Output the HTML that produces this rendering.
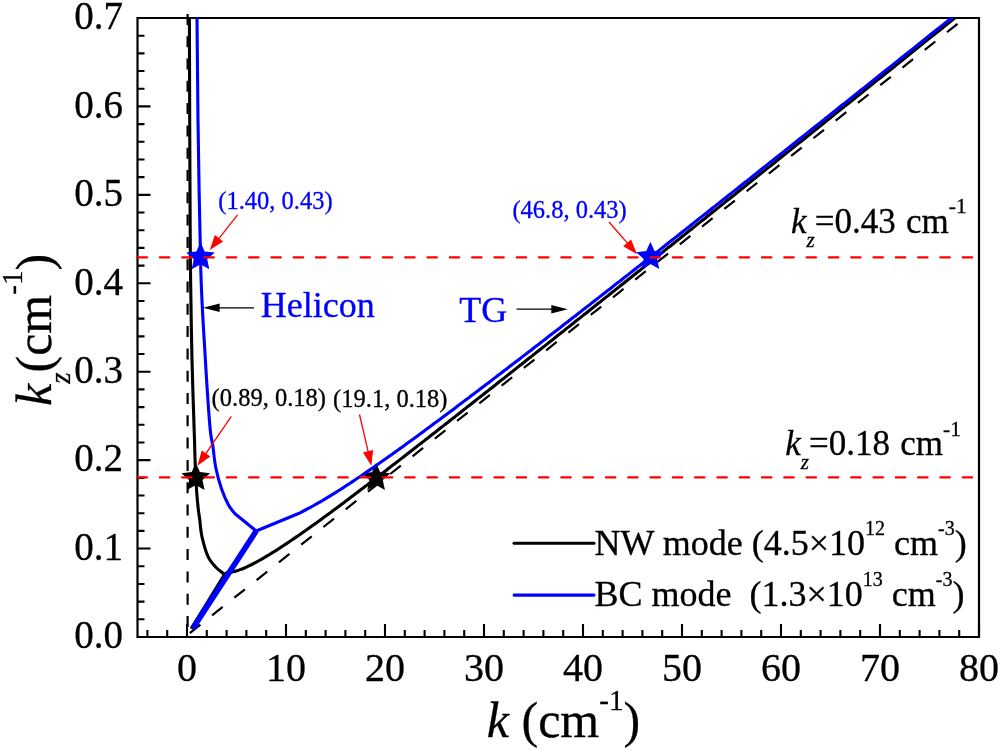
<!DOCTYPE html><html><head><meta charset="utf-8"><style>html,body{margin:0;padding:0;background:#fff;}svg{display:block;}text{font-family:"Liberation Serif","Times New Roman",serif;stroke:#000;stroke-width:0.3px;}text.b{fill:#0000ff;stroke:#0000ff;}</style></head><body>
<svg width="1000" height="750" viewBox="0 0 1000 750">
<rect width="1000" height="750" fill="#fff"/>
<defs><clipPath id="pc"><rect x="0" y="17.2" width="1000" height="640"/></clipPath></defs>
<path d="M137.5,18.0 H979.0 V637.0 H137.5 Z" fill="none" stroke="#000" stroke-width="2.2"/>
<path d="M147.40,637.0 V630.0 M167.20,637.0 V630.0 M187.00,637.0 V624.0 M206.80,637.0 V630.0 M226.60,637.0 V630.0 M246.40,637.0 V630.0 M266.20,637.0 V630.0 M286.00,637.0 V624.0 M305.80,637.0 V630.0 M325.60,637.0 V630.0 M345.40,637.0 V630.0 M365.20,637.0 V630.0 M385.00,637.0 V624.0 M404.80,637.0 V630.0 M424.60,637.0 V630.0 M444.40,637.0 V630.0 M464.20,637.0 V630.0 M484.00,637.0 V624.0 M503.80,637.0 V630.0 M523.60,637.0 V630.0 M543.40,637.0 V630.0 M563.20,637.0 V630.0 M583.00,637.0 V624.0 M602.80,637.0 V630.0 M622.60,637.0 V630.0 M642.40,637.0 V630.0 M662.20,637.0 V630.0 M682.00,637.0 V624.0 M701.80,637.0 V630.0 M721.60,637.0 V630.0 M741.40,637.0 V630.0 M761.20,637.0 V630.0 M781.00,637.0 V624.0 M800.80,637.0 V630.0 M820.60,637.0 V630.0 M840.40,637.0 V630.0 M860.20,637.0 V630.0 M880.00,637.0 V624.0 M899.80,637.0 V630.0 M919.60,637.0 V630.0 M939.40,637.0 V630.0 M959.20,637.0 V630.0 M979.00,637.0 V624.0 M137.5,637.00 H150.5 M137.5,619.31 H144.5 M137.5,601.63 H144.5 M137.5,583.94 H144.5 M137.5,566.26 H144.5 M137.5,548.57 H150.5 M137.5,530.88 H144.5 M137.5,513.20 H144.5 M137.5,495.51 H144.5 M137.5,477.83 H144.5 M137.5,460.14 H150.5 M137.5,442.45 H144.5 M137.5,424.77 H144.5 M137.5,407.08 H144.5 M137.5,389.40 H144.5 M137.5,371.71 H150.5 M137.5,354.02 H144.5 M137.5,336.34 H144.5 M137.5,318.65 H144.5 M137.5,300.97 H144.5 M137.5,283.28 H150.5 M137.5,265.59 H144.5 M137.5,247.91 H144.5 M137.5,230.22 H144.5 M137.5,212.54 H144.5 M137.5,194.85 H150.5 M137.5,177.16 H144.5 M137.5,159.48 H144.5 M137.5,141.79 H144.5 M137.5,124.11 H144.5 M137.5,106.42 H150.5 M137.5,88.73 H144.5 M137.5,71.05 H144.5 M137.5,53.36 H144.5 M137.5,35.68 H144.5" stroke="#000" stroke-width="2.1" fill="none"/>
<line x1="187.6" y1="637.0" x2="187.6" y2="14" stroke="#000" stroke-width="2.2" stroke-dasharray="11 11.3" stroke-dashoffset="12.3"/>
<line x1="187.6" y1="634.8" x2="957.5" y2="23.9" stroke="#000" stroke-width="2.2" stroke-dasharray="13.5 14.93" stroke-dashoffset="25.6"/>
<path d="M191.2,628.8 L224.6,574.4" fill="none" stroke="#000" stroke-width="3.1"/>
<path clip-path="url(#pc)" d="M189.30,14.00 C189.32,14.67 189.33,0.33 189.40,18.00 C189.47,35.67 189.57,84.67 189.70,120.00 C189.83,155.33 190.05,203.33 190.20,230.00 C190.35,256.67 190.30,258.33 190.60,280.00 C190.90,301.67 191.35,333.33 192.00,360.00 C192.65,386.67 193.98,423.12 194.50,440.00 C195.02,456.88 194.88,455.25 195.10,461.30 C195.32,467.35 195.52,470.97 195.80,476.30 C196.08,481.63 196.38,487.80 196.80,493.30 C197.22,498.80 197.80,504.85 198.30,509.30 C198.80,513.75 199.42,516.88 199.80,520.00 C200.18,523.12 200.27,525.33 200.60,528.00 C200.93,530.67 201.27,533.33 201.80,536.00 C202.33,538.67 203.07,541.33 203.80,544.00 C204.53,546.67 205.33,549.60 206.20,552.00 C207.07,554.40 207.87,556.40 209.00,558.40 C210.13,560.40 211.73,562.40 213.00,564.00 C214.27,565.60 215.20,566.67 216.60,568.00 C218.00,569.33 220.07,570.93 221.40,572.00 C222.73,573.07 224.07,574.00 224.60,574.40 L227.1,572.5 229.5,572.3 232.0,571.9 234.5,571.4 237.0,570.7 239.4,569.9 241.9,569.0 244.4,568.0 246.9,566.9 249.3,565.7 251.8,564.5 254.3,563.2 256.8,561.9 259.2,560.5 261.7,559.1 264.2,557.7 266.7,556.2 269.1,554.7 271.6,553.2 274.1,551.7 276.6,550.1 279.1,548.5 281.5,546.9 284.0,545.3 286.5,543.6 288.9,542.0 291.4,540.3 293.9,538.6 296.4,536.9 298.9,535.2 301.3,533.5 303.8,531.7 306.3,530.0 308.8,528.2 311.2,526.5 313.7,524.7 316.2,522.9 318.6,521.2 321.1,519.4 323.6,517.6 326.1,515.8 328.5,514.0 331.0,512.2 333.5,510.3 336.0,508.5 338.4,506.7 340.9,504.8 343.4,502.9 345.9,501.1 348.4,499.2 350.8,497.3 353.3,495.5 355.8,493.6 358.2,491.7 360.7,489.8 363.2,487.9 365.7,486.1 368.1,484.2 370.6,482.3 373.1,480.4 375.6,478.5 378.1,476.6 380.5,474.7 383.0,472.8 385.5,470.9 387.9,469.0 390.4,467.0 392.9,465.1 395.4,463.2 397.9,461.3 400.3,459.4 402.8,457.5 405.3,455.5 407.8,453.6 410.2,451.7 412.7,449.8 415.2,447.8 417.6,445.9 420.1,444.0 422.6,442.1 425.1,440.1 427.6,438.2 430.0,436.3 432.5,434.3 435.0,432.4 437.4,430.5 439.9,428.5 442.4,426.6 444.9,424.6 447.4,422.7 449.8,420.8 452.3,418.8 454.8,416.9 457.2,414.9 459.7,413.0 462.2,411.0 464.7,409.1 467.1,407.1 469.6,405.2 472.1,403.3 474.6,401.3 477.0,399.4 479.5,397.4 482.0,395.5 484.5,393.5 487.0,391.6 489.4,389.6 491.9,387.7 494.4,385.7 496.9,383.7 499.3,381.8 501.8,379.8 504.3,377.9 506.8,375.9 509.2,374.0 511.7,372.0 514.2,370.1 516.6,368.1 519.1,366.1 521.6,364.2 524.1,362.2 526.5,360.3 529.0,358.3 531.5,356.4 534.0,354.4 536.5,352.4 538.9,350.5 541.4,348.5 543.9,346.6 546.4,344.6 548.8,342.6 551.3,340.7 553.8,338.7 556.2,336.7 558.7,334.8 561.2,332.8 563.7,330.9 566.1,328.9 568.6,326.9 571.1,325.0 573.6,323.0 576.0,321.0 578.5,319.1 581.0,317.1 583.5,315.1 586.0,313.2 588.4,311.2 590.9,309.2 593.4,307.3 595.9,305.3 598.3,303.3 600.8,301.4 603.3,299.4 605.8,297.4 608.2,295.5 610.7,293.5 613.2,291.5 615.6,289.6 618.1,287.6 620.6,285.6 623.1,283.7 625.5,281.7 628.0,279.7 630.5,277.7 633.0,275.8 635.5,273.8 637.9,271.8 640.4,269.9 642.9,267.9 645.4,265.9 647.8,264.0 650.3,262.0 652.8,260.0 655.2,258.0 657.7,256.1 660.2,254.1 662.7,252.1 665.1,250.1 667.6,248.1 670.1,246.2 672.6,244.2 675.0,242.2 677.5,240.2 680.0,238.3 682.5,236.3 685.0,234.3 687.4,232.3 689.9,230.3 692.4,228.4 694.9,226.4 697.3,224.4 699.8,222.4 702.3,220.4 704.8,218.5 707.2,216.5 709.7,214.5 712.2,212.5 714.7,210.5 717.1,208.6 719.6,206.6 722.1,204.6 724.6,202.6 727.0,200.6 729.5,198.7 732.0,196.7 734.5,194.7 736.9,192.7 739.4,190.7 741.9,188.7 744.4,186.8 746.8,184.8 749.3,182.8 751.8,180.8 754.2,178.8 756.7,176.9 759.2,174.9 761.7,172.9 764.2,170.9 766.6,168.9 769.1,166.9 771.6,165.0 774.1,163.0 776.5,161.0 779.0,159.0 781.5,157.0 784.0,155.0 786.4,153.1 788.9,151.1 791.4,149.1 793.9,147.1 796.3,145.1 798.8,143.1 801.3,141.2 803.8,139.2 806.2,137.2 808.7,135.2 811.2,133.2 813.7,131.2 816.1,129.3 818.6,127.3 821.1,125.3 823.5,123.3 826.0,121.3 828.5,119.3 831.0,117.4 833.4,115.4 835.9,113.4 838.4,111.4 840.9,109.4 843.4,107.4 845.8,105.4 848.3,103.5 850.8,101.5 853.2,99.5 855.7,97.5 858.2,95.5 860.7,93.5 863.1,91.6 865.6,89.6 868.1,87.6 870.6,85.6 873.0,83.6 875.5,81.6 878.0,79.6 880.5,77.7 882.9,75.7 885.4,73.7 887.9,71.7 890.4,69.7 892.9,67.7 895.3,65.7 897.8,63.8 900.3,61.8 902.8,59.8 905.2,57.8 907.7,55.8 910.2,53.8 912.6,51.8 915.1,49.9 917.6,47.9 920.1,45.9 922.5,43.9 925.0,41.9 927.5,39.9 930.0,37.9 932.4,36.0 934.9,34.0 937.4,32.0 939.9,30.0 942.4,28.0 944.8,26.0 947.3,24.0 949.8,22.1 952.2,20.1 954.7,18.1 957.2,16.1 959.7,14.1 959.8,14.0" fill="none" stroke="#000" stroke-width="3.1" stroke-linejoin="round"/>
<polygon points="195.8,462.8 199.9,472.1 210.1,473.2 202.5,480.0 204.6,489.9 195.8,484.9 187.0,489.9 189.1,480.0 181.5,473.2 191.7,472.1" fill="#000"/>
<polygon points="376.1,462.9 380.2,472.2 390.4,473.3 382.8,480.1 384.9,490.0 376.1,484.9 367.3,490.0 369.4,480.1 361.8,473.3 372.0,472.2" fill="#000"/>
<path clip-path="url(#pc)" d="M196.90,14.00 C196.92,14.67 196.82,0.33 197.00,18.00 C197.18,35.67 197.37,78.00 198.00,120.00 C198.63,162.00 199.67,231.67 200.80,270.00 C201.93,308.33 203.30,324.17 204.80,350.00 C206.30,375.83 208.45,408.95 209.80,425.00 C211.15,441.05 211.90,439.18 212.90,446.30 C213.90,453.42 214.35,460.58 215.80,467.70 C217.25,474.82 219.48,482.78 221.60,489.00 C223.72,495.22 226.22,500.83 228.50,505.00 C230.78,509.17 234.17,512.50 235.30,514.00 L256.2,531 L298.0,513.8 300.5,512.6 302.9,511.3 305.4,510.0 307.9,508.7 310.4,507.4 312.9,506.0 315.3,504.7 317.8,503.2 320.3,501.8 322.8,500.4 325.2,498.9 327.7,497.4 330.2,495.9 332.6,494.4 335.1,492.9 337.6,491.3 340.1,489.7 342.6,488.1 345.0,486.5 347.5,484.9 350.0,483.3 352.5,481.6 354.9,480.0 357.4,478.3 359.9,476.7 362.4,475.0 364.8,473.3 367.3,471.6 369.8,469.9 372.2,468.2 374.7,466.5 377.2,464.7 379.7,463.0 382.1,461.3 384.6,459.5 387.1,457.8 389.6,456.0 392.1,454.3 394.5,452.5 397.0,450.7 399.5,448.9 402.0,447.2 404.4,445.4 406.9,443.6 409.4,441.8 411.9,440.0 414.3,438.2 416.8,436.4 419.3,434.6 421.8,432.7 424.2,430.9 426.7,429.1 429.2,427.3 431.6,425.5 434.1,423.6 436.6,421.8 439.1,419.9 441.6,418.1 444.0,416.3 446.5,414.4 449.0,412.6 451.5,410.7 453.9,408.9 456.4,407.0 458.9,405.1 461.4,403.3 463.8,401.4 466.3,399.5 468.8,397.7 471.2,395.8 473.7,393.9 476.2,392.1 478.7,390.2 481.1,388.3 483.6,386.4 486.1,384.5 488.6,382.7 491.1,380.8 493.5,378.9 496.0,377.0 498.5,375.1 501.0,373.2 503.4,371.3 505.9,369.4 508.4,367.5 510.9,365.6 513.3,363.7 515.8,361.8 518.3,359.9 520.8,358.0 523.2,356.1 525.7,354.2 528.2,352.3 530.7,350.4 533.1,348.5 535.6,346.6 538.1,344.7 540.6,342.8 543.0,340.9 545.5,339.0 548.0,337.0 550.5,335.1 552.9,333.2 555.4,331.3 557.9,329.4 560.4,327.5 562.8,325.5 565.3,323.6 567.8,321.7 570.2,319.8 572.7,317.8 575.2,315.9 577.7,314.0 580.2,312.1 582.6,310.1 585.1,308.2 587.6,306.3 590.1,304.4 592.5,302.4 595.0,300.5 597.5,298.6 600.0,296.6 602.4,294.7 604.9,292.8 607.4,290.8 609.9,288.9 612.3,287.0 614.8,285.0 617.3,283.1 619.8,281.2 622.2,279.2 624.7,277.3 627.2,275.4 629.7,273.4 632.1,271.5 634.6,269.5 637.1,267.6 639.6,265.7 642.0,263.7 644.5,261.8 647.0,259.8 649.5,257.9 651.9,255.9 654.4,254.0 656.9,252.1 659.4,250.1 661.8,248.2 664.3,246.2 666.8,244.2 669.2,242.3 671.7,240.3 674.2,238.4 676.7,236.4 679.2,234.5 681.6,232.5 684.1,230.6 686.6,228.6 689.1,226.7 691.5,224.7 694.0,222.7 696.5,220.8 699.0,218.8 701.4,216.9 703.9,214.9 706.4,213.0 708.9,211.0 711.3,209.0 713.8,207.1 716.3,205.1 718.8,203.2 721.2,201.2 723.7,199.2 726.2,197.3 728.7,195.3 731.1,193.4 733.6,191.4 736.1,189.4 738.6,187.5 741.0,185.5 743.5,183.5 746.0,181.6 748.5,179.6 750.9,177.7 753.4,175.7 755.9,173.7 758.4,171.8 760.8,169.8 763.3,167.8 765.8,165.9 768.3,163.9 770.7,161.9 773.2,160.0 775.7,158.0 778.2,156.0 780.6,154.1 783.1,152.1 785.6,150.1 788.1,148.2 790.5,146.2 793.0,144.2 795.5,142.3 798.0,140.3 800.4,138.3 802.9,136.4 805.4,134.4 807.9,132.4 810.3,130.5 812.8,128.5 815.3,126.5 817.8,124.6 820.2,122.6 822.7,120.6 825.2,118.6 827.7,116.7 830.1,114.7 832.6,112.7 835.1,110.8 837.6,108.8 840.0,106.8 842.5,104.8 845.0,102.9 847.5,100.9 849.9,98.9 852.4,97.0 854.9,95.0 857.4,93.0 859.8,91.0 862.3,89.1 864.8,87.1 867.3,85.1 869.7,83.2 872.2,81.2 874.7,79.2 877.2,77.2 879.6,75.3 882.1,73.3 884.6,71.3 887.1,69.3 889.5,67.4 892.0,65.4 894.5,63.4 897.0,61.4 899.4,59.5 901.9,57.5 904.4,55.5 906.9,53.5 909.3,51.6 911.8,49.6 914.3,47.6 916.8,45.6 919.2,43.7 921.7,41.7 924.2,39.7 926.7,37.7 929.1,35.8 931.6,33.8 934.1,31.8 936.6,29.8 939.0,27.9 941.5,25.9 944.0,23.9 946.5,21.9 948.9,20.0 951.4,18.0 953.9,16.0 956.4,14.0 956.4,14.0" fill="none" stroke="#0000ff" stroke-width="3.1" stroke-linejoin="round"/>
<path d="M192.8,628.4 L256.2,531" fill="none" stroke="#0000ff" stroke-width="5.6" stroke-linecap="butt"/>
<polygon points="200.5,242.1 204.6,251.4 214.8,252.5 207.2,259.3 209.3,269.2 200.5,264.2 191.7,269.2 193.8,259.3 186.2,252.5 196.4,251.4" fill="#0000ff"/>
<polygon points="650.4,241.8 654.5,251.1 664.7,252.2 657.1,259.0 659.2,268.9 650.4,263.9 641.6,268.9 643.7,259.0 636.1,252.2 646.3,251.1" fill="#0000ff"/>
<line x1="137.6" y1="257.4" x2="975" y2="257.4" stroke="#ff0000" stroke-width="2.2" stroke-dasharray="9.4 12.9" stroke-linecap="round"/>
<line x1="137.6" y1="477.4" x2="975" y2="477.4" stroke="#ff0000" stroke-width="2.2" stroke-dasharray="9.4 12.9" stroke-linecap="round"/>
<line x1="237.6" y1="214.8" x2="217.8" y2="239.8" stroke="#ff0000" stroke-width="1.3"/><polygon points="209.7,250.0 214.9,235.0 223.1,241.5" fill="#ff0000"/>
<line x1="609.0" y1="222.0" x2="628.5" y2="244.4" stroke="#ff0000" stroke-width="1.3"/><polygon points="637.0,254.2 623.2,246.3 631.1,239.5" fill="#ff0000"/>
<line x1="231.3" y1="416.4" x2="204.8" y2="455.1" stroke="#ff0000" stroke-width="1.3"/><polygon points="197.5,465.8 201.7,450.5 210.3,456.4" fill="#ff0000"/>
<line x1="359.5" y1="414.5" x2="368.5" y2="453.1" stroke="#ff0000" stroke-width="1.3"/><polygon points="371.4,465.8 362.9,452.4 373.1,450.0" fill="#ff0000"/>
<line x1="254.0" y1="307.8" x2="217.6" y2="307.8" stroke="#000" stroke-width="1.3"/><polygon points="203.1,307.8 219.6,303.5 219.6,312.1" fill="#000"/>
<line x1="516.6" y1="309.2" x2="553.3" y2="309.2" stroke="#000" stroke-width="1.3"/><polygon points="567.8,309.2 551.3,313.5 551.3,304.9" fill="#000"/>
<text x="187.0" y="681" font-size="40" text-anchor="middle">0</text>
<text x="286.0" y="681" font-size="40" text-anchor="middle">10</text>
<text x="385.0" y="681" font-size="40" text-anchor="middle">20</text>
<text x="484.0" y="681" font-size="40" text-anchor="middle">30</text>
<text x="583.0" y="681" font-size="40" text-anchor="middle">40</text>
<text x="682.0" y="681" font-size="40" text-anchor="middle">50</text>
<text x="781.0" y="681" font-size="40" text-anchor="middle">60</text>
<text x="880.0" y="681" font-size="40" text-anchor="middle">70</text>
<text x="979.0" y="681" font-size="40" text-anchor="middle">80</text>
<text x="123.0" y="648.2" font-size="39" text-anchor="end">0.0</text>
<text x="123.0" y="559.8" font-size="39" text-anchor="end">0.1</text>
<text x="123.0" y="471.3" font-size="39" text-anchor="end">0.2</text>
<text x="123.0" y="382.9" font-size="39" text-anchor="end">0.3</text>
<text x="123.0" y="294.5" font-size="39" text-anchor="end">0.4</text>
<text x="123.0" y="206.1" font-size="39" text-anchor="end">0.5</text>
<text x="123.0" y="117.6" font-size="39" text-anchor="end">0.6</text>
<text x="123.0" y="29.2" font-size="39" text-anchor="end">0.7</text>
<text x="486.8" y="736.5" font-size="50"><tspan font-style="italic">k</tspan> (cm<tspan font-size="29" dy="-27">-1</tspan><tspan dy="27">)</tspan></text>
<text transform="translate(51,406) rotate(-90)" font-size="50"><tspan font-style="italic">k</tspan><tspan font-size="29" font-style="italic" dy="19">z</tspan><tspan dy="-19">(cm</tspan><tspan font-size="29" dy="-29">-1</tspan><tspan dy="29">)</tspan></text>
<text x="218.3" y="209.2" font-size="24.5" class="b" fill="#0000ff">(1.40, 0.43)</text>
<text x="512.4" y="218.1" font-size="24.5" class="b" fill="#0000ff">(46.8, 0.43)</text>
<text x="211.6" y="406" font-size="24.5" fill="#000">(0.89, 0.18)</text>
<text x="333.1" y="407" font-size="24.5" fill="#000">(19.1, 0.18)</text>
<text x="260.8" y="317.4" font-size="36" class="b" fill="#0000ff">Helicon</text>
<text x="459.3" y="321.5" font-size="36" class="b" fill="#0000ff">TG</text>
<text x="791" y="232.5" font-size="35"><tspan font-style="italic">k</tspan><tspan font-style="italic" font-size="21" dy="14">z</tspan><tspan dy="-14">=0.43 </tspan><tspan dx="1.5">cm</tspan><tspan font-size="21.5" dy="-19.5">-1</tspan></text>
<text x="785.3" y="455.2" font-size="35"><tspan font-style="italic">k</tspan><tspan font-style="italic" font-size="21" dy="14">z</tspan><tspan dy="-14">=0.18 </tspan><tspan dx="1.5">cm</tspan><tspan font-size="21.5" dy="-19.5">-1</tspan></text>
<line x1="514.1" y1="543.3" x2="594" y2="543.3" stroke="#000" stroke-width="3.1" stroke-linecap="round"/>
<line x1="514.1" y1="595.1" x2="594" y2="595.1" stroke="#0000ff" stroke-width="3.1" stroke-linecap="round"/>
<text x="594.5" y="555" font-size="36">NW mode (4.5×10<tspan font-size="20" dy="-20">12</tspan><tspan dy="20"> cm</tspan><tspan font-size="20" dy="-20">-3</tspan><tspan dy="20">)</tspan></text>
<text x="594.5" y="606" font-size="36" xml:space="preserve">BC mode  (1.3×10<tspan font-size="20" dy="-20">13</tspan><tspan dy="20"> cm</tspan><tspan font-size="20" dy="-20">-3</tspan><tspan dy="20">)</tspan></text>
</svg></body></html>
